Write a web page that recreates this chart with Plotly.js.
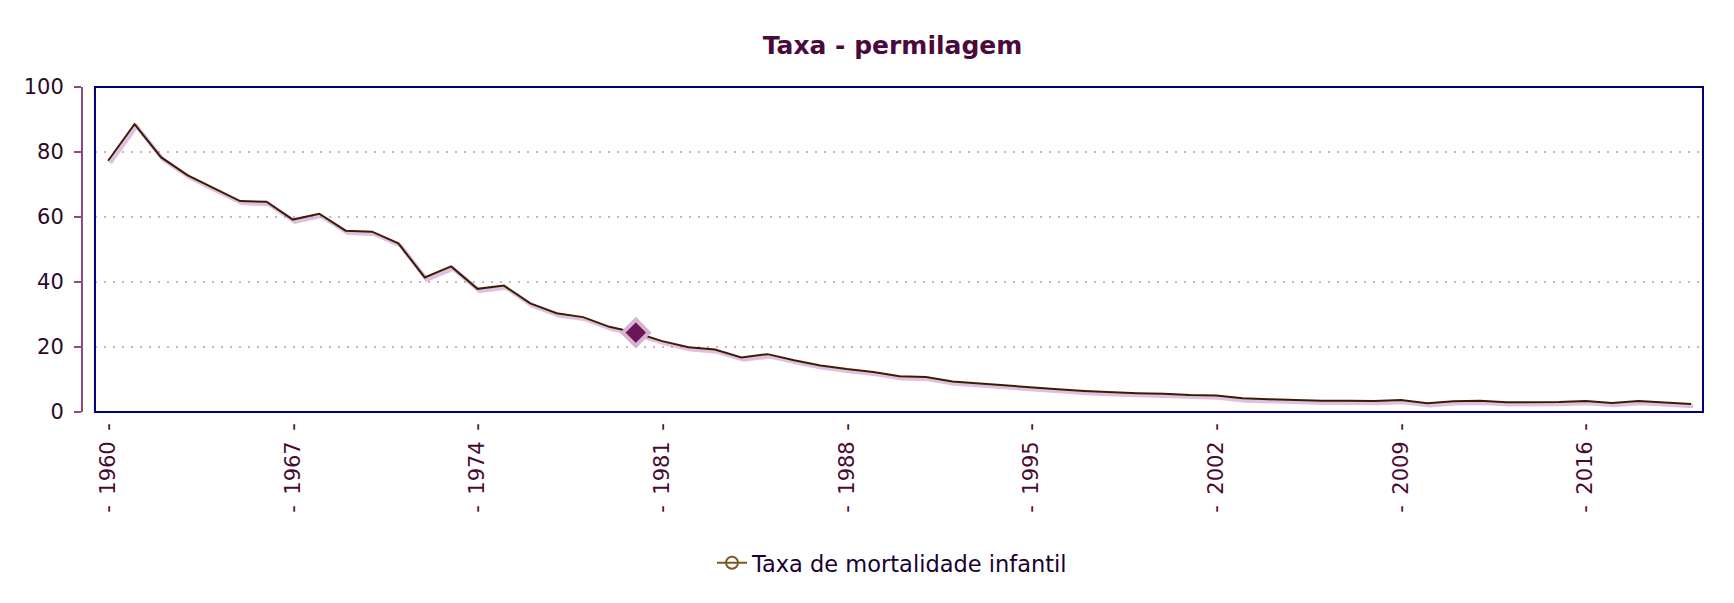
<!DOCTYPE html>
<html>
<head>
<meta charset="utf-8">
<script src="https://cdn.plot.ly/plotly-3.0.1.min.js"></script>
<style>
  html, body { margin: 0; padding: 0; background: #fff; }
  #chart { width: 1734px; height: 603px; }
</style>
</head>
<body>
<div id="chart"></div>
<script>
// values
var years = [1960, 1961, 1962, 1963, 1964, 1965, 1966, 1967, 1968, 1969,
             1970, 1971, 1972, 1973, 1974, 1975, 1976, 1977, 1978, 1979,
             1980, 1981, 1982, 1983, 1984, 1985, 1986, 1987, 1988, 1989,
             1990, 1991, 1992, 1993, 1994, 1995, 1996, 1997, 1998, 1999,
             2000, 2001, 2002, 2003, 2004, 2005, 2006, 2007, 2008, 2009,
             2010, 2011, 2012, 2013, 2014, 2015, 2016, 2017, 2018, 2019, 2020]
var mortality = [77.3, 88.6, 78.4, 72.9, 68.9, 64.9, 64.7, 59.2, 61.0, 55.8,
                 55.5, 51.9, 41.4, 44.8, 37.9, 38.9, 33.4, 30.4, 29.2, 26.2,
                 24.4, 21.8, 19.9, 19.2, 16.8, 17.8, 15.9, 14.3, 13.2, 12.3,
                 11.0, 10.8, 9.4, 8.8, 8.0, 7.6, 7.0, 6.5, 6.1, 5.8,
                 5.6, 5.2, 5.1, 4.2, 3.9, 3.6, 3.5, 3.5, 3.4, 3.7,
                 2.7, 3.3, 3.5, 3.0, 3.0, 3.1, 3.4, 2.8, 3.4, 3.0, 2.5]
var tickYears = [1960, 1967, 1974, 1981, 1988, 1995, 2002, 2009, 2016]
var tickLabels = ["-\u20021960\u2002-", "-\u20021967\u2002-", "-\u20021974\u2002-",
                  "-\u20021981\u2002-", "-\u20021988\u2002-", "-\u20021995\u2002-",
                  "-\u20022002\u2002-", "-\u20022009\u2002-", "-\u20022016\u2002-"]
var highlightYear = 1980
var seriesName = "Taxa de mortalidade infantil"

var hi = years.indexOf(highlightYear)

// soft pink shadow just under the line
var shadow = {
  x: years.map(function(v) { return v + 0.08 }),
  y: mortality.map(function(v) { return v - 0.7 }),
  mode: "lines",
  line: { color: "rgba(196,140,196,0.55)", width: 4 },
  showlegend: false,
  hoverinfo: "skip"
}

var line = {
  x: years,
  y: mortality,
  mode: "lines",
  line: { color: "#3b1c00", width: 2 },
  showlegend: false
}

var marker = {
  x: [years[hi]],
  y: [mortality[hi]],
  mode: "markers",
  marker: {
    symbol: "diamond",
    size: 20,
    color: "#6a1558",
    line: { color: "#d6b2ce", width: 4 }
  },
  showlegend: false
}

// legend entry only
var legendItem = {
  x: [null],
  y: [null],
  name: seriesName,
  mode: "lines+markers",
  line: { color: "#7a5a22", width: 2 },
  marker: { symbol: "circle-open", size: 12, color: "#7a5a22", line: { width: 2 } }
}

var layout = {
  width: 1734,
  height: 603,
  paper_bgcolor: "#ffffff",
  plot_bgcolor: "#ffffff",
  margin: { l: 82, r: 31, t: 87, b: 191 },
  font: { family: "DejaVu Sans, Verdana, sans-serif", color: "#2a0a28" },
  title: {
    text: "Taxa - permilagem",
    font: { family: "DejaVu Sans, Verdana, sans-serif", size: 25, color: "#4b0a3c", weight: "bold" },
    x: 0.5,
    xref: "paper",
    xanchor: "center",
    y: 0.925,
    yref: "container",
    yanchor: "middle"
  },
  xaxis: {
    domain: [0.008, 1],
    range: [1959.5, 2020.45],
    tickvals: tickYears,
    ticktext: tickLabels,
    tickangle: -90,
    tickfont: { size: 21, color: "#4a0a30" },
    ticks: "",
    ticklabelstandoff: 6,
    showgrid: false,
    zeroline: false,
    showline: false
  },
  yaxis: {
    range: [0, 100],
    dtick: 20,
    anchor: "free",
    position: 0,
    showline: true,
    linecolor: "#8e4a85",
    linewidth: 2,
    ticks: "outside",
    ticklen: 7,
    tickwidth: 2,
    tickcolor: "#8e4a85",
    tickfont: { size: 21, color: "#2a0a28" },
    ticklabelstandoff: 6,
    showgrid: true,
    gridcolor: "#d2aecb",
    gridwidth: 2,
    griddash: "2px,7px",
    zeroline: false
  },
  shapes: [{
    type: "rect",
    xref: "x domain",
    yref: "y domain",
    x0: 0, x1: 1, y0: 0, y1: 1,
    line: { color: "#000080", width: 2 },
    layer: "above"
  }],
  legend: {
    orientation: "h",
    x: 0.5,
    xanchor: "center",
    y: -0.465,
    yanchor: "middle",
    font: { size: 22.5, color: "#1a0030" },
    itemwidth: 30
  },
  hovermode: false
}

Plotly.newPlot("chart", [shadow, line, marker, legendItem], layout, { displayModeBar: false, staticPlot: true })
</script>
</body>
</html>
